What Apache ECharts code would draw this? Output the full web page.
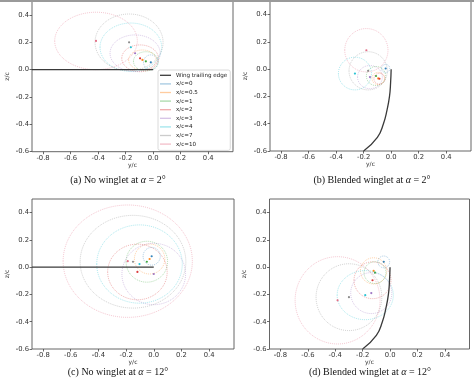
<!DOCTYPE html>
<html>
<head>
<meta charset="utf-8">
<script src="https://cdn.jsdelivr.net/npm/echarts@6/dist/echarts.min.js"></script>
<style>html,body{margin:0;padding:0;background:#fff}#c{width:474px;height:385px}</style>
</head>
<body>
<div id="c"></div>
<script>
// ---- data ----
const CATEGORIES = ['x/c=0','x/c=0.5','x/c=1','x/c=2','x/c=3','x/c=4','x/c=7','x/c=10'];
const COLORS = ['#1f77b4','#ff7f0e','#2ca02c','#d62728','#9467bd','#17becf','#7f7f7f','#e0607a'];
const X_TICKS = [-0.8,-0.6,-0.4,-0.2,0.0,0.2,0.4];
const Y_TICKS = [-0.6,-0.4,-0.2,0.0,0.2,0.4];

// (a) No winglet, alpha = 2 : vortex centre (y,z) and half extents
const A_CY = [-0.017,-0.078,-0.053,-0.095,-0.131,-0.162,-0.175,-0.415];
const A_CZ = [ 0.054, 0.071, 0.061, 0.083, 0.120, 0.164, 0.200, 0.210];
const A_RY = [ 0.053, 0.100, 0.090, 0.133, 0.182, 0.224, 0.247, 0.300];
const A_RZ = [ 0.054, 0.073, 0.070, 0.098, 0.134, 0.177, 0.207, 0.210];
// (b) Blended winglet, alpha = 2
const B_CY = [-0.040,-0.094,-0.110,-0.085,-0.154,-0.263,-0.167,-0.180];
const B_CZ = [ 0.005,-0.068,-0.050,-0.070,-0.058,-0.032,-0.012, 0.139];
const B_RY = [ 0.030,0.045, 0.070, 0.040, 0.090, 0.120, 0.139, 0.157];
const B_RZ = [ 0.030,0.045, 0.070, 0.040, 0.085, 0.120, 0.140, 0.159];
// (c) No winglet, alpha = 12
const C_CY = [-0.015,-0.030,-0.050,-0.118, 0.000,-0.103,-0.150,-0.188];
const C_CZ = [ 0.080, 0.060, 0.040,-0.035,-0.050, 0.023, 0.040, 0.044];
const C_RY = [ 0.062, 0.110, 0.150, 0.215, 0.230, 0.309, 0.382, 0.467];
const C_RZ = [ 0.065, 0.110, 0.150, 0.204, 0.225, 0.287, 0.340, 0.412];
// (d) Blended winglet, alpha = 12
const D_CY = [-0.046,-0.120,-0.110,-0.128,-0.137,-0.181,-0.300,-0.383];
const D_CZ = [ 0.039,-0.027,-0.040,-0.096,-0.190,-0.205,-0.220,-0.243];
const D_RY = [ 0.043, 0.096, 0.080, 0.135, 0.150, 0.205, 0.240, 0.310];
const D_RZ = [ 0.043, 0.096, 0.080, 0.135, 0.150, 0.180, 0.245, 0.320];

// wing trailing edge
const WING_FLAT_Y = [-0.88, 0.0];
const WING_FLAT_Z = [0.0, 0.0];
const WING_BLEND_Y = [0.0,-0.004,-0.012,-0.030,-0.056,-0.100,-0.200];
const WING_BLEND_Z = [0.0,-0.100,-0.200,-0.300,-0.400,-0.500,-0.600];

const TITLES = [
  '(a) No winglet at {i|α} = 2°',
  '(b) Blended winglet at {i|α} = 2°',
  '(c) No winglet at {i|α} = 12°',
  '(d) Blended winglet at {i|α} = 12°'
];

// ---- layout ----
const GRIDS = [
  {left:32, top:1.3, width:201, height:150.4},
  {left:270, top:1, width:201, height:150},
  {left:32, top:199, width:202, height:150},
  {left:269.5, top:199, width:200, height:150}
];
const TITLE_POS = [[118,180],[372,180],[118,372],[370,372]];
const PANELS = [
  {cy:A_CY, cz:A_CZ, ry:A_RY, rz:A_RZ, wy:WING_FLAT_Y, wz:WING_FLAT_Z, smooth:false},
  {cy:B_CY, cz:B_CZ, ry:B_RY, rz:B_RZ, wy:WING_BLEND_Y, wz:WING_BLEND_Z, smooth:true},
  {cy:C_CY, cz:C_CZ, ry:C_RY, rz:C_RZ, wy:WING_FLAT_Y, wz:WING_FLAT_Z, smooth:false},
  {cy:D_CY, cz:D_CZ, ry:D_RY, rz:D_RZ, wy:WING_BLEND_Y, wz:WING_BLEND_Z, smooth:true}
];

const fmt = v => { const r = Math.round(v*10)/10; return (r < 0 ? '-' : '') + Math.abs(r).toFixed(1); };
const FONT = 'DejaVu Sans';

function hexA(hex, a) {
  const n = parseInt(hex.slice(1), 16);
  return 'rgba(' + (n>>16 & 255) + ',' + (n>>8 & 255) + ',' + (n & 255) + ',' + a + ')';
}

const xAxes = [], yAxes = [], series = [], graphics = [];
GRIDS.forEach((g, p) => {
  xAxes.push({
    type:'value', gridIndex:p, min:-0.88, max:0.58, splitNumber:7, minInterval:0.2, maxInterval:0.2,
    name:'y/c', nameLocation:'middle', nameGap:10,
    nameTextStyle:{fontFamily:FONT, fontSize:6, color:'#333'},
    axisLine:{show:false, onZero:false}, splitLine:{show:false},
    axisTick:{show:true, length:2.5, lineStyle:{color:'#444', width:0.8}},
    axisLabel:{fontFamily:FONT, fontSize:6.8, color:'#333', margin:3, showMinLabel:false, showMaxLabel:false, formatter:fmt}
  });
  yAxes.push({
    type:'value', gridIndex:p, min:-0.6, max:0.5, splitNumber:6, minInterval:0.2, maxInterval:0.2,
    name:'z/c', nameLocation:'middle', nameGap:22, nameRotate:90,
    nameTextStyle:{fontFamily:FONT, fontSize:6, color:'#333'},
    axisLine:{show:false, onZero:false}, splitLine:{show:false},
    axisTick:{show:true, length:2.5, lineStyle:{color:'#444', width:0.8}},
    axisLabel:{fontFamily:FONT, fontSize:6.8, color:'#333', margin:3, showMinLabel:true, showMaxLabel:false, formatter:fmt}
  });
  const P = PANELS[p];
  series.push({
    type:'line', name:'Wing trailing edge', xAxisIndex:p, yAxisIndex:p,
    data:P.wy.map((y,i)=>[y, P.wz[i]]), smooth:P.smooth, showSymbol:false, symbol:'none',
    lineStyle:{color:'#3a3a3a', width:1.3}, z:3, silent:true
  });
  CATEGORIES.forEach((name, k) => {
    const col = COLORS[k];
    series.push({
      type:'custom', name:name, xAxisIndex:p, yAxisIndex:p, clip:true, silent:true,
      itemStyle:{color:col},
      data:[[P.cy[k], P.cz[k], P.ry[k], P.rz[k]]],
      renderItem:function(params, api){
        const c = api.coord([api.value(0), api.value(1)]);
        const s = api.size([api.value(2), api.value(3)]);
        const rx = s[0], ry = s[1];
        const d = 'M' + (c[0]-rx) + ' ' + c[1] +
          ' A' + rx + ' ' + ry + ' 0 1 0 ' + (c[0]+rx) + ' ' + c[1] +
          ' A' + rx + ' ' + ry + ' 0 1 0 ' + (c[0]-rx) + ' ' + c[1] + ' Z';
        return {type:'group', children:[
          {type:'path', shape:{pathData:d}, style:{fill:null, stroke:hexA(col,0.45), lineWidth:0.8, lineDash:[1,1]}},
          {type:'circle', shape:{cx:c[0], cy:c[1], r:1.1}, style:{fill:hexA(col,0.9)}}
        ]};
      }
    });
  });
  graphics.push({
    type:'text', x:TITLE_POS[p][0], y:TITLE_POS[p][1], silent:true,
    style:{text:TITLES[p], fontFamily:'Liberation Serif', fontSize:10, fill:'#111',
      align:'center', verticalAlign:'middle',
      rich:{i:{fontFamily:'Liberation Serif', fontSize:10, fontStyle:'italic', fill:'#111'}}}
  });
});
graphics.push({type:'rect', shape:{x:0, y:0, width:474, height:2}, style:{fill:'#9a9a9a'}, silent:true, z:100});

const legendData = [{name:'Wing trailing edge', itemStyle:{color:'#3a3a3a'}}]
  .concat(CATEGORIES.map((n,k)=>({name:n, itemStyle:{color:hexA(COLORS[k],0.4)}})));

const chart = echarts.init(document.getElementById('c'), null, {renderer:'canvas'});
chart.setOption({
  animation:false,
  grid:GRIDS.map(g=>Object.assign({show:true, borderColor:'#555', borderWidth:0.9, backgroundColor:'transparent', containLabel:false}, g)),
  xAxis:xAxes, yAxis:yAxes, series:series,
  legend:{
    data:legendData, orient:'vertical', left:158, top:70, selectedMode:false,
    icon:'rect', itemWidth:11, itemHeight:1.3, itemGap:0,
    padding:[1,3,2,2], backgroundColor:'rgba(255,255,255,0.85)', borderColor:'#d0d0d0', borderWidth:0.8, borderRadius:2,
    textStyle:{fontFamily:FONT, fontSize:5.6, color:'#222', lineHeight:8.6}
  },
  graphic:graphics
});
</script>
</body>
</html>
